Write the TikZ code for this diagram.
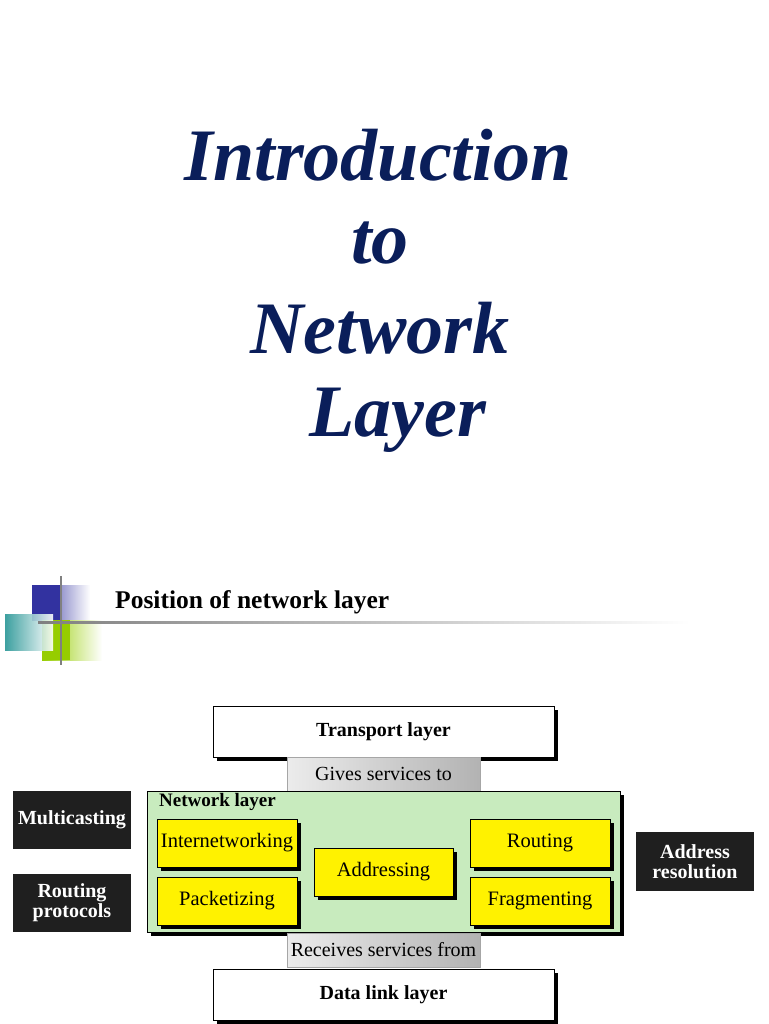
\documentclass[tikz,border=0pt]{standalone}
\usepackage{fontspec}
\setmainfont{Liberation Serif}
\definecolor{navy}{RGB}{10,30,90}
\definecolor{lblue}{RGB}{50,50,160}
\definecolor{lgreen}{RGB}{150,205,0}
\definecolor{lteal}{RGB}{40,150,150}
\definecolor{pgreen}{RGB}{200,235,190}
\begin{document}
\begin{tikzpicture}[x=1pt,y=-1pt,
  sh/.style={draw=black,line width=0.6pt,preaction={fill=black,transform canvas={shift={(4pt,-4pt)}}}},
  box/.style={sh,fill=white,font=\fontsize{20}{22}\selectfont\bfseries},
  yel/.style={sh,fill=yellow,font=\fontsize{20.5}{22}\selectfont},
  dark/.style={fill=black!88,text=white,font=\fontsize{20}{20}\selectfont\bfseries,align=center},
  gry/.style={draw=gray!70,inner sep=1pt,left color=gray!15,right color=gray!60,font=\fontsize{20}{22}\selectfont},
  ttl/.style={text=navy,font=\fontsize{74}{78}\selectfont\bfseries\itshape}]
\useasboundingbox (0,0) rectangle (768,1024);
\fill[white] (0,0) rectangle (768,1024);
% title
\node[ttl] (t1) at (378,155) {Introduction};
\node[ttl] (t2) at (380,243) {to};
\node[ttl] (t3) at (380,328) {Network};
\node[ttl] (t4) at (398,420) {Layer};
% logo
\shade[left color=lblue,right color=white] (32,585) rectangle (90,620);
\fill[lblue] (32,585) rectangle (60,620);
\shade[left color=lgreen,right color=white] (42,620) rectangle (102,660);
\fill[lgreen] (42,620) rectangle (70,660);
\shade[left color=lteal,right color=white,opacity=0.9] (5,614) rectangle (53,650);
\draw[gray,line width=2pt] (61,576) -- (61,665);
\shade[left color=gray,right color=white] (38,621) rectangle (690,623.5);
\node[anchor=base west,font=\fontsize{25.5}{27}\selectfont\bfseries,inner sep=0] (pt) at (115,608) {Position of network layer};
% diagram
\node[box,minimum width=341,minimum height=51] (tr) at (383.5,731.5) {Transport layer};
\node[gry,minimum width=193,minimum height=34] (gs) at (383.5,774) {Gives services to};
\node[sh,fill=pgreen,minimum width=473,minimum height=141] (nl) at (383.5,861.5) {};
\node[anchor=north west,font=\fontsize{19}{20}\selectfont\bfseries,inner sep=0] (nlt) at (159,793) {Network layer};
\node[gry,minimum width=193,minimum height=34] (rs) at (383.5,950) {Receives services from};
\node[box,minimum width=341,minimum height=51] (dl) at (383.5,994.5) {Data link layer};
\node[yel,minimum width=140,minimum height=48] (iw) at (227,843) {Internetworking};
\node[yel,minimum width=140,minimum height=48] (pk) at (227,901) {Packetizing};
\node[yel,minimum width=139,minimum height=48] (ad) at (383.5,872) {Addressing};
\node[yel,minimum width=140,minimum height=48] (ro) at (540,843) {Routing};
\node[yel,minimum width=140,minimum height=48] (fr) at (540,901) {Fragmenting};
\node[dark,minimum width=118,minimum height=58] (mc) at (72,820) {Multicasting};
\node[dark,minimum width=118,minimum height=58] (rp) at (72,903) {Routing\\protocols};
\node[dark,minimum width=118,minimum height=59] (ar) at (695,861.5) {Address\\resolution};
\end{tikzpicture}
\end{document}
